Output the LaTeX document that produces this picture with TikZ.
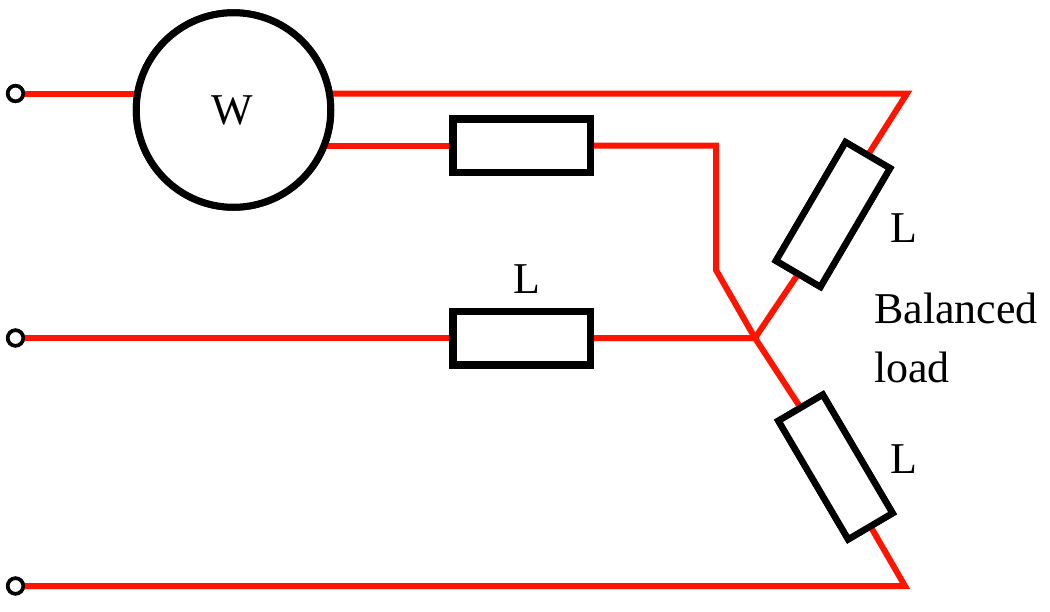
\documentclass[tikz,border=0pt]{standalone}
\usepackage{fontspec}
\setmainfont{Liberation Serif}
\tikzset{
  wire/.style={draw={rgb,255:red,255;green,20;blue,0},line width=6pt,line join=miter},
  loadbox/.style={draw=black,fill=white,line width=7.5pt,minimum width=137.5pt,minimum height=53.5pt,inner sep=0pt,outer sep=0pt},
  tiltbox/.style={draw=black,fill=white,line width=6.5pt,minimum width=137.5pt,minimum height=51.5pt,inner sep=0pt,outer sep=0pt},
  term/.style={circle,draw=black,fill=white,line width=3.6pt,minimum size=15.5pt,inner sep=0pt,outer sep=0pt},
  meter/.style={circle,draw=black,fill=white,line width=7pt,minimum size=194.5pt,inner sep=0pt,outer sep=0pt},
  lab/.style={font=\fontsize{44pt}{50pt}\selectfont,inner sep=0pt,text=black}
}
\begin{document}
\begin{tikzpicture}[x=1pt,y=-1pt]
\useasboundingbox (0,0) rectangle (1050,611);
\coordinate (topcorner) at (907,93.5);
\coordinate (botcorner) at (905,586);
\coordinate (meterout1) at (330,93.5);
\coordinate (meterout2) at (326,145.5);
\coordinate (bend1) at (716,145.5);
\coordinate (bend2) at (716,270);
\coordinate (star) at (755,338);
\path node[term] (t1) at (15.5,93.5) {};
\path node[term] (t2) at (15.5,338) {};
\path node[term] (t3) at (15.5,586) {};
\path node[meter] (m) at (233.5,110) {};
\path node[loadbox] (r1) at (521.5,145.5) {};
\path node[loadbox] (r2) at (521.5,338) {};
\path node[tiltbox,rotate=59.6] (r3) at (833,214.5) {};
\path node[tiltbox,rotate=-59.5] (r4) at (835.5,467) {};
\draw[wire] (t1) -- (m.west |- t1);
\draw[wire] (meterout1) -- (topcorner) -- (r3.east);
\draw[wire] (meterout2) -- (r1.west);
\draw[wire] (r1.east) -- (bend1) -- (bend2) -- (star) -- (r4.west);
\draw[wire] (t2) -- (r2.west);
\draw[wire] (r2.east) -- (star) -- (r3.west);
\draw[wire] (t3) -- (botcorner) -- (r4.east);
\node[term] at (t1) {};
\node[term] at (t2) {};
\node[term] at (t3) {};
\node[meter] at (m) {};
\node[loadbox] at (r1) {};
\node[loadbox] at (r2) {};
\node[tiltbox,rotate=59.6] at (r3) {};
\node[tiltbox,rotate=-59.5] at (r4) {};
\node[lab] (lw) at (232,110) {W};
\node[lab] (l1) at (527,279) {L};
\node[lab] (l2) at (904,228) {L};
\node[lab] (l3) at (904,459) {L};
\node[lab,anchor=base west] (b1) at (874,323) {Balanced};
\node[lab,anchor=base west] (b2) at (874,382) {load};
\end{tikzpicture}
\end{document}
